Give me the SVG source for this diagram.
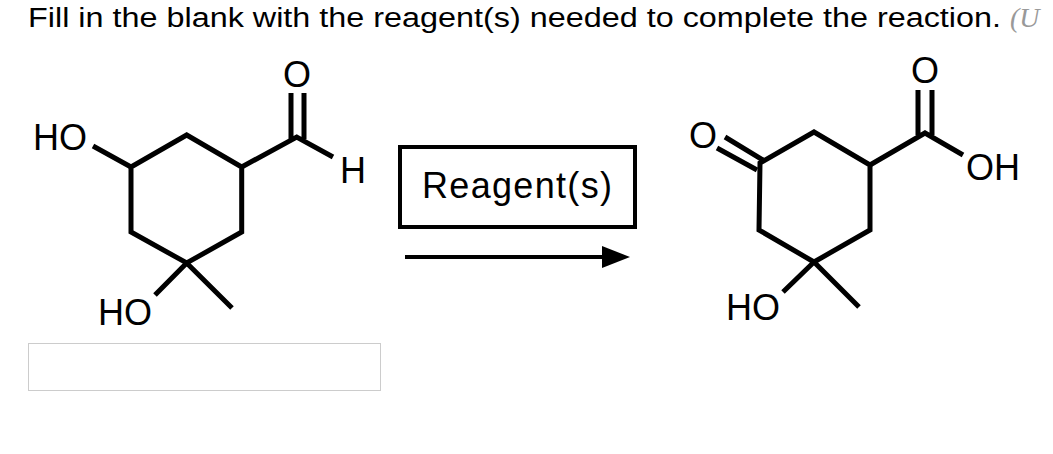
<svg xmlns="http://www.w3.org/2000/svg" width="1053" height="454" viewBox="0 0 1053 454">
<style>
.b{stroke:#000;stroke-width:5;fill:none;stroke-linecap:butt;stroke-linejoin:miter}
.a{font-family:"Liberation Sans",Arial,sans-serif;font-size:36px;fill:#000}
</style>
<rect width="1053" height="454" fill="#fff"/>
<text x="28" y="27" font-family="Liberation Sans,Arial,sans-serif" font-size="27" fill="#000" textLength="973" lengthAdjust="spacingAndGlyphs">Fill in the blank with the reagent(s) needed to complete the reaction.</text>
<text x="1010" y="27" font-family="Liberation Serif,serif" font-style="italic" font-size="28" fill="#999">(U</text>
<g id="reactant">
<polygon class="b" points="186.7,135 241.7,167 241.7,232 186.7,263 131,232 131,167"/>
<path class="b" d="M131,167 L93,146 M241.7,167 L296.7,137 L333,157 M291,93 V139 M304,93 V139 M186.7,263 L155,295 M186.7,263 L232,308"/>
<text class="a" x="33" y="150">HO</text>
<text class="a" x="297" y="87" text-anchor="middle">O</text>
<text class="a" x="340" y="183">H</text>
<text class="a" x="98" y="325">HO</text>
</g>
<g id="reagent">
<rect x="400" y="147" width="235" height="80" fill="none" stroke="#000" stroke-width="4"/>
<text class="a" x="422" y="198" font-size="38" textLength="190">Reagent(s)</text>
</g>
<g id="connectors">
<line x1="405" y1="257" x2="606" y2="257" stroke="#000" stroke-width="4"/>
<polygon points="630,257 602,246 602,268" fill="#000"/>
</g>
<g id="product">
<polygon class="b" points="814,132 870,165 870,230 814,262 759,230 760,163"/>
<path class="b" d="M725,137 L763,160 M717,148 L757,170 M870,165 L925,133 L963,155 M918,90 V135 M932,90 V135 M814,262 L783,292 M814,262 L859,307"/>
<text class="a" x="703" y="148" text-anchor="middle">O</text>
<text class="a" x="925" y="83" text-anchor="middle">O</text>
<text class="a" x="966" y="180">OH</text>
<text class="a" x="726" y="320">HO</text>
</g>
<rect x="28.5" y="343.5" width="352" height="47" fill="#fff" stroke="#ccc" stroke-width="1"/>
</svg>
